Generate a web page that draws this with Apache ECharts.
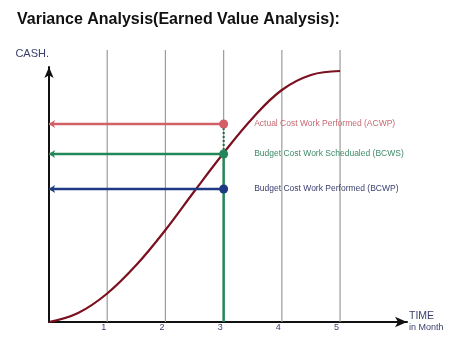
<!DOCTYPE html>
<html>
<head>
<meta charset="utf-8">
<script src="https://cdn.jsdelivr.net/npm/echarts@6/dist/echarts.min.js"></script>
<style>
html, body { margin: 0; padding: 0; background: #fff; }
#chart { width: 474px; height: 355px; }
</style>
</head>
<body>
<div id="chart"></div>
<script>
// cumulative cost S-curve (month -> cash)
var curveMonths = [0, 0.5, 1, 1.5, 2, 2.5, 3, 3.5, 4, 4.5, 5];
var curveCash = [0, 9, 28.5, 57, 92, 131, 169, 204, 232, 247, 251];

// month ticks and grey verticals
var monthTicks = [1, 2, 3, 4, 5];
var gridLineTop = 272;

// status date and the three earned value indicators
var statusMonth = 3;
var indicatorNames = ['Actual Cost Work Performed (ACWP)', 'Budget Cost Work Schedualed (BCWS)', 'Budget Cost Work Performed (BCWP)'];
var indicatorCash = [198, 168, 133];
var indicatorColors = ['#d35f67', '#23875a', '#1f3a85'];
var labelColors = ['#c56a72', '#3f8a68', '#3a4072'];

var FONT = 'Liberation Sans';
var NAVY = '#3a3f6e';

var myChart = echarts.init(document.getElementById('chart'));

var series = [];

// vertical grid lines
monthTicks.forEach(function (m) {
    series.push({
        type: 'line',
        data: [[m, 0], [m, gridLineTop]],
        showSymbol: false,
        clip: false,
        silent: true,
        lineStyle: { color: '#9c9c9c', width: 1.2 },
        z: 1
    });
});

// the S-curve
series.push({
    type: 'line',
    data: curveMonths.map(function (m, i) { return [m, curveCash[i]]; }),
    smooth: 0.4,
    showSymbol: false,
    lineStyle: { color: '#7b1020', width: 2.2 },
    z: 3
});

// BCWS drop line down to the time axis
series.push({
    type: 'line',
    data: [[statusMonth, indicatorCash[1]], [statusMonth, 0]],
    showSymbol: false,
    lineStyle: { color: indicatorColors[1], width: 2.5 },
    z: 2
});

// dotted link ACWP -> BCWS
series.push({
    type: 'line',
    data: [[statusMonth, indicatorCash[0]], [statusMonth, indicatorCash[1]]],
    showSymbol: false,
    lineStyle: { color: '#1f6b45', width: 2, type: [2, 2] },
    z: 2
});

// horizontal arrows with end dots and labels
indicatorNames.forEach(function (name, i) {
    series.push({
        type: 'line',
        data: [
            { value: [0, indicatorCash[i]], symbol: 'arrow', symbolRotate: 90, symbolSize: [6, 6] },
            {
                value: [statusMonth, indicatorCash[i]], symbol: 'circle', symbolSize: 9,
                label: {
                    show: true, position: 'right', distance: 26, formatter: name,
                    color: labelColors[i], fontSize: 8.5, fontFamily: FONT
                }
            }
        ],
        showSymbol: true,
        itemStyle: { color: indicatorColors[i] },
        lineStyle: { color: indicatorColors[i], width: 2.5 },
        z: 4
    });
});

var option = {
    animation: false,
    title: {
        text: 'Variance Analysis(Earned Value Analysis):',
        left: 17,
        top: 12,
        padding: 0,
        textStyle: { fontFamily: FONT, fontSize: 16, fontWeight: 'bold', color: '#111' }
    },
    grid: { left: 49, right: 67, top: 67, bottom: 33 },
    xAxis: {
        type: 'value',
        min: 0,
        max: 6.15,
        interval: 1,
        name: '{a|TIME}\n{b|in Month}',
        nameLocation: 'end',
        nameGap: 2,
        nameTextStyle: {
            align: 'left',
            rich: {
                a: { fontFamily: FONT, fontSize: 10.5, color: NAVY, lineHeight: 12 },
                b: { fontFamily: FONT, fontSize: 9, color: NAVY, lineHeight: 12 }
            }
        },
        axisLine: {
            symbol: ['none', 'arrow'],
            symbolSize: [8, 12],
            lineStyle: { color: '#111', width: 2 }
        },
        axisTick: { show: false },
        splitLine: { show: false },
        axisLabel: {
            margin: 1,
            fontFamily: FONT,
            fontSize: 9,
            color: NAVY,
            padding: [0, 7, 0, 0],
            formatter: function (v) { return monthTicks.indexOf(v) >= 0 ? String(v) : ''; }
        }
    },
    yAxis: {
        type: 'value',
        min: 0,
        max: 255,
        name: 'CASH.',
        nameLocation: 'end',
        nameGap: 8,
        nameTextStyle: { align: 'right', fontFamily: FONT, fontSize: 11, color: NAVY },
        axisLine: {
            show: true,
            symbol: ['none', 'arrow'],
            symbolSize: [7, 11],
            lineStyle: { color: '#111', width: 2 }
        },
        axisTick: { show: false },
        axisLabel: { show: false },
        splitLine: { show: false }
    },
    series: series
};

myChart.setOption(option);
</script>
</body>
</html>
